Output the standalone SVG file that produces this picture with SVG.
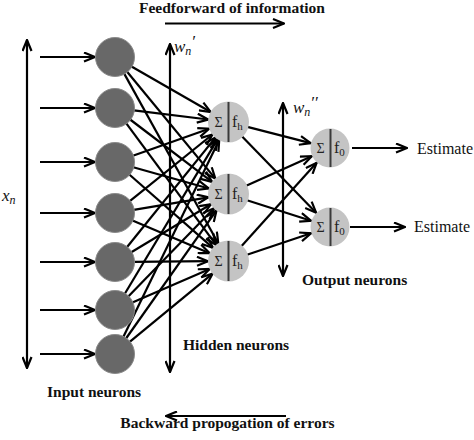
<svg xmlns="http://www.w3.org/2000/svg" width="474" height="440" viewBox="0 0 474 440">
<style>
.ln{stroke:#000;stroke-width:2.2;fill:none;marker-end:url(#ah)}
.dbl{stroke:#000;stroke-width:2.2;fill:none;marker-end:url(#ah);marker-start:url(#ah)}
.inp{fill:#686868;stroke:#8a8a8a;stroke-width:1}
.hid{fill:#c4c4c4}
.div{stroke:#3a3a3a;stroke-width:2}
.lbl{font-family:"Liberation Serif","Times New Roman",serif;font-weight:bold;font-size:15.5px;fill:#111}
.est{font-family:"Liberation Serif","Times New Roman",serif;font-size:16px;fill:#111}
.sig{font-family:"Liberation Serif","Times New Roman",serif;font-size:14px;fill:#222}
.fh{font-family:"Liberation Serif","Times New Roman",serif;font-size:16px;fill:#222}
.sub{font-size:11px}
.math{font-family:"Liberation Serif","Times New Roman",serif;font-style:italic;font-size:17px;fill:#111}
</style>
<defs>
<marker id="ah" markerUnits="userSpaceOnUse" viewBox="0 0 13 11" refX="12" refY="5.5" markerWidth="13" markerHeight="11" orient="auto-start-reverse">
<path d="M1,1 L12,5.5 L1,10" fill="none" stroke="#000" stroke-width="2.2" stroke-linejoin="miter"/>
</marker>
</defs>

<g id="connectors">
<!-- input feeds -->
<line class="ln" x1="40" y1="57" x2="95" y2="57"/>
<line class="ln" x1="40" y1="108" x2="95" y2="108"/>
<line class="ln" x1="40" y1="162" x2="95" y2="162"/>
<line class="ln" x1="40" y1="213" x2="95" y2="213"/>
<line class="ln" x1="40" y1="262" x2="95" y2="262"/>
<line class="ln" x1="40" y1="310" x2="95" y2="310"/>
<line class="ln" x1="40" y1="354" x2="95" y2="354"/>
<!-- input to hidden -->
<line class="ln" x1="131.5" y1="66.5" x2="210.7" y2="112"/>
<line class="ln" x1="127.1" y1="71.7" x2="215.3" y2="178.6"/>
<line class="ln" x1="124.2" y1="73.6" x2="218.3" y2="243.5"/>
<line class="ln" x1="133.9" y1="110.3" x2="208.2" y2="119.5"/>
<line class="ln" x1="130.1" y1="119.5" x2="212.1" y2="181.9"/>
<line class="ln" x1="126.3" y1="123.3" x2="216.1" y2="244.9"/>
<line class="ln" x1="132.9" y1="155.7" x2="209.1" y2="128.7"/>
<line class="ln" x1="133.3" y1="167.2" x2="208.8" y2="188.5"/>
<line class="ln" x1="129.3" y1="174.5" x2="213" y2="247.8"/>
<line class="ln" x1="129.8" y1="201.1" x2="212.4" y2="134.5"/>
<line class="ln" x1="133.7" y1="209.8" x2="208.3" y2="197.3"/>
<line class="ln" x1="132.5" y1="220.4" x2="209.6" y2="253.2"/>
<line class="ln" x1="126.9" y1="247.2" x2="215.4" y2="137.6"/>
<line class="ln" x1="131.3" y1="252.2" x2="210.9" y2="204.3"/>
<line class="ln" x1="134" y1="261.8" x2="208" y2="261.2"/>
<line class="ln" x1="124.8" y1="293.7" x2="217.7" y2="139.1"/>
<line class="ln" x1="128.3" y1="296.4" x2="214" y2="208.3"/>
<line class="ln" x1="132.4" y1="302.4" x2="209.7" y2="269"/>
<line class="ln" x1="123.3" y1="336.9" x2="219.2" y2="140"/>
<line class="ln" x1="126" y1="338.5" x2="216.5" y2="210.3"/>
<line class="ln" x1="129.7" y1="341.9" x2="212.6" y2="273.7"/>
<!-- hidden to output -->
<line class="ln" x1="247.4" y1="126.9" x2="310.6" y2="143.1"/>
<line class="ln" x1="241.9" y1="136.3" x2="316.1" y2="212.7"/>
<line class="ln" x1="246.2" y1="185.8" x2="311.8" y2="156.2"/>
<line class="ln" x1="247" y1="200.2" x2="311" y2="220.8"/>
<line class="ln" x1="241.4" y1="246.2" x2="316.6" y2="162.8"/>
<line class="ln" x1="247" y1="254.7" x2="311" y2="233.3"/>
<!-- outputs -->
<line class="ln" x1="352" y1="148" x2="407" y2="148"/>
<line class="ln" x1="350" y1="227" x2="405" y2="227"/>
<!-- vertical axes -->
<line class="dbl" x1="27" y1="40" x2="27" y2="368"/>
<line class="dbl" x1="170" y1="44" x2="170" y2="372"/>
<line class="dbl" x1="283" y1="103" x2="283" y2="276"/>
<!-- flow arrows -->
<line class="ln" x1="165" y1="23.5" x2="284" y2="23.5"/>
<line class="ln" x1="286" y1="416" x2="166" y2="416"/>
</g>

<g id="input-neurons">
<circle class="inp" cx="115" cy="57" r="19.5"/>
<circle class="inp" cx="115" cy="108" r="19.5"/>
<circle class="inp" cx="115" cy="162" r="19.5"/>
<circle class="inp" cx="115" cy="213" r="19.5"/>
<circle class="inp" cx="115" cy="262" r="19.5"/>
<circle class="inp" cx="115" cy="310" r="19.5"/>
<circle class="inp" cx="115" cy="354" r="19.5"/>
</g>

<g id="hidden-1">
<circle class="hid" cx="228.5" cy="122" r="20.5"/>
<line class="div" x1="228.5" y1="102" x2="228.5" y2="142"/>
<text class="sig" x="214.5" y="127">Σ</text>
<text class="fh" x="232" y="127">f<tspan class="sub" dy="3">h</tspan></text>
</g>
<g id="hidden-2">
<circle class="hid" cx="228.5" cy="194" r="20.5"/>
<line class="div" x1="228.5" y1="174" x2="228.5" y2="214"/>
<text class="sig" x="214.5" y="199">Σ</text>
<text class="fh" x="232" y="199">f<tspan class="sub" dy="3">h</tspan></text>
</g>
<g id="hidden-3">
<circle class="hid" cx="228.5" cy="261" r="20.5"/>
<line class="div" x1="228.5" y1="241" x2="228.5" y2="281"/>
<text class="sig" x="214.5" y="266">Σ</text>
<text class="fh" x="232" y="266">f<tspan class="sub" dy="3">h</tspan></text>
</g>
<g id="output-1">
<circle class="hid" cx="330" cy="148" r="19.5"/>
<line class="div" x1="330.5" y1="129" x2="330.5" y2="167"/>
<text class="sig" x="316.5" y="153">Σ</text>
<text class="fh" x="334" y="153">f<tspan class="sub" dy="3">0</tspan></text>
</g>
<g id="output-2">
<circle class="hid" cx="330" cy="227" r="19.5"/>
<line class="div" x1="330.5" y1="208" x2="330.5" y2="246"/>
<text class="sig" x="316.5" y="232">Σ</text>
<text class="fh" x="334" y="232">f<tspan class="sub" dy="3">0</tspan></text>
</g>

<g id="labels">
<text class="lbl" x="232" y="13" text-anchor="middle">Feedforward of information</text>
<text class="lbl" x="227.5" y="428" text-anchor="middle">Backward propogation of errors</text>
<text class="lbl" x="183" y="350">Hidden neurons</text>
<text class="lbl" x="47" y="397">Input neurons</text>
<text class="lbl" x="302" y="285">Output neurons</text>
<text class="est" x="417" y="154">Estimate</text>
<text class="est" x="414" y="232">Estimate</text>
<text class="math" x="2" y="201">x<tspan font-size="12" dy="3">n</tspan></text>
<text class="math" x="174" y="52">w<tspan font-size="12" dy="3">n</tspan><tspan dy="-8">′</tspan></text>
<text class="math" x="293" y="113">w<tspan font-size="12" dy="3">n</tspan><tspan dy="-8">′′</tspan></text>
</g>
</svg>
